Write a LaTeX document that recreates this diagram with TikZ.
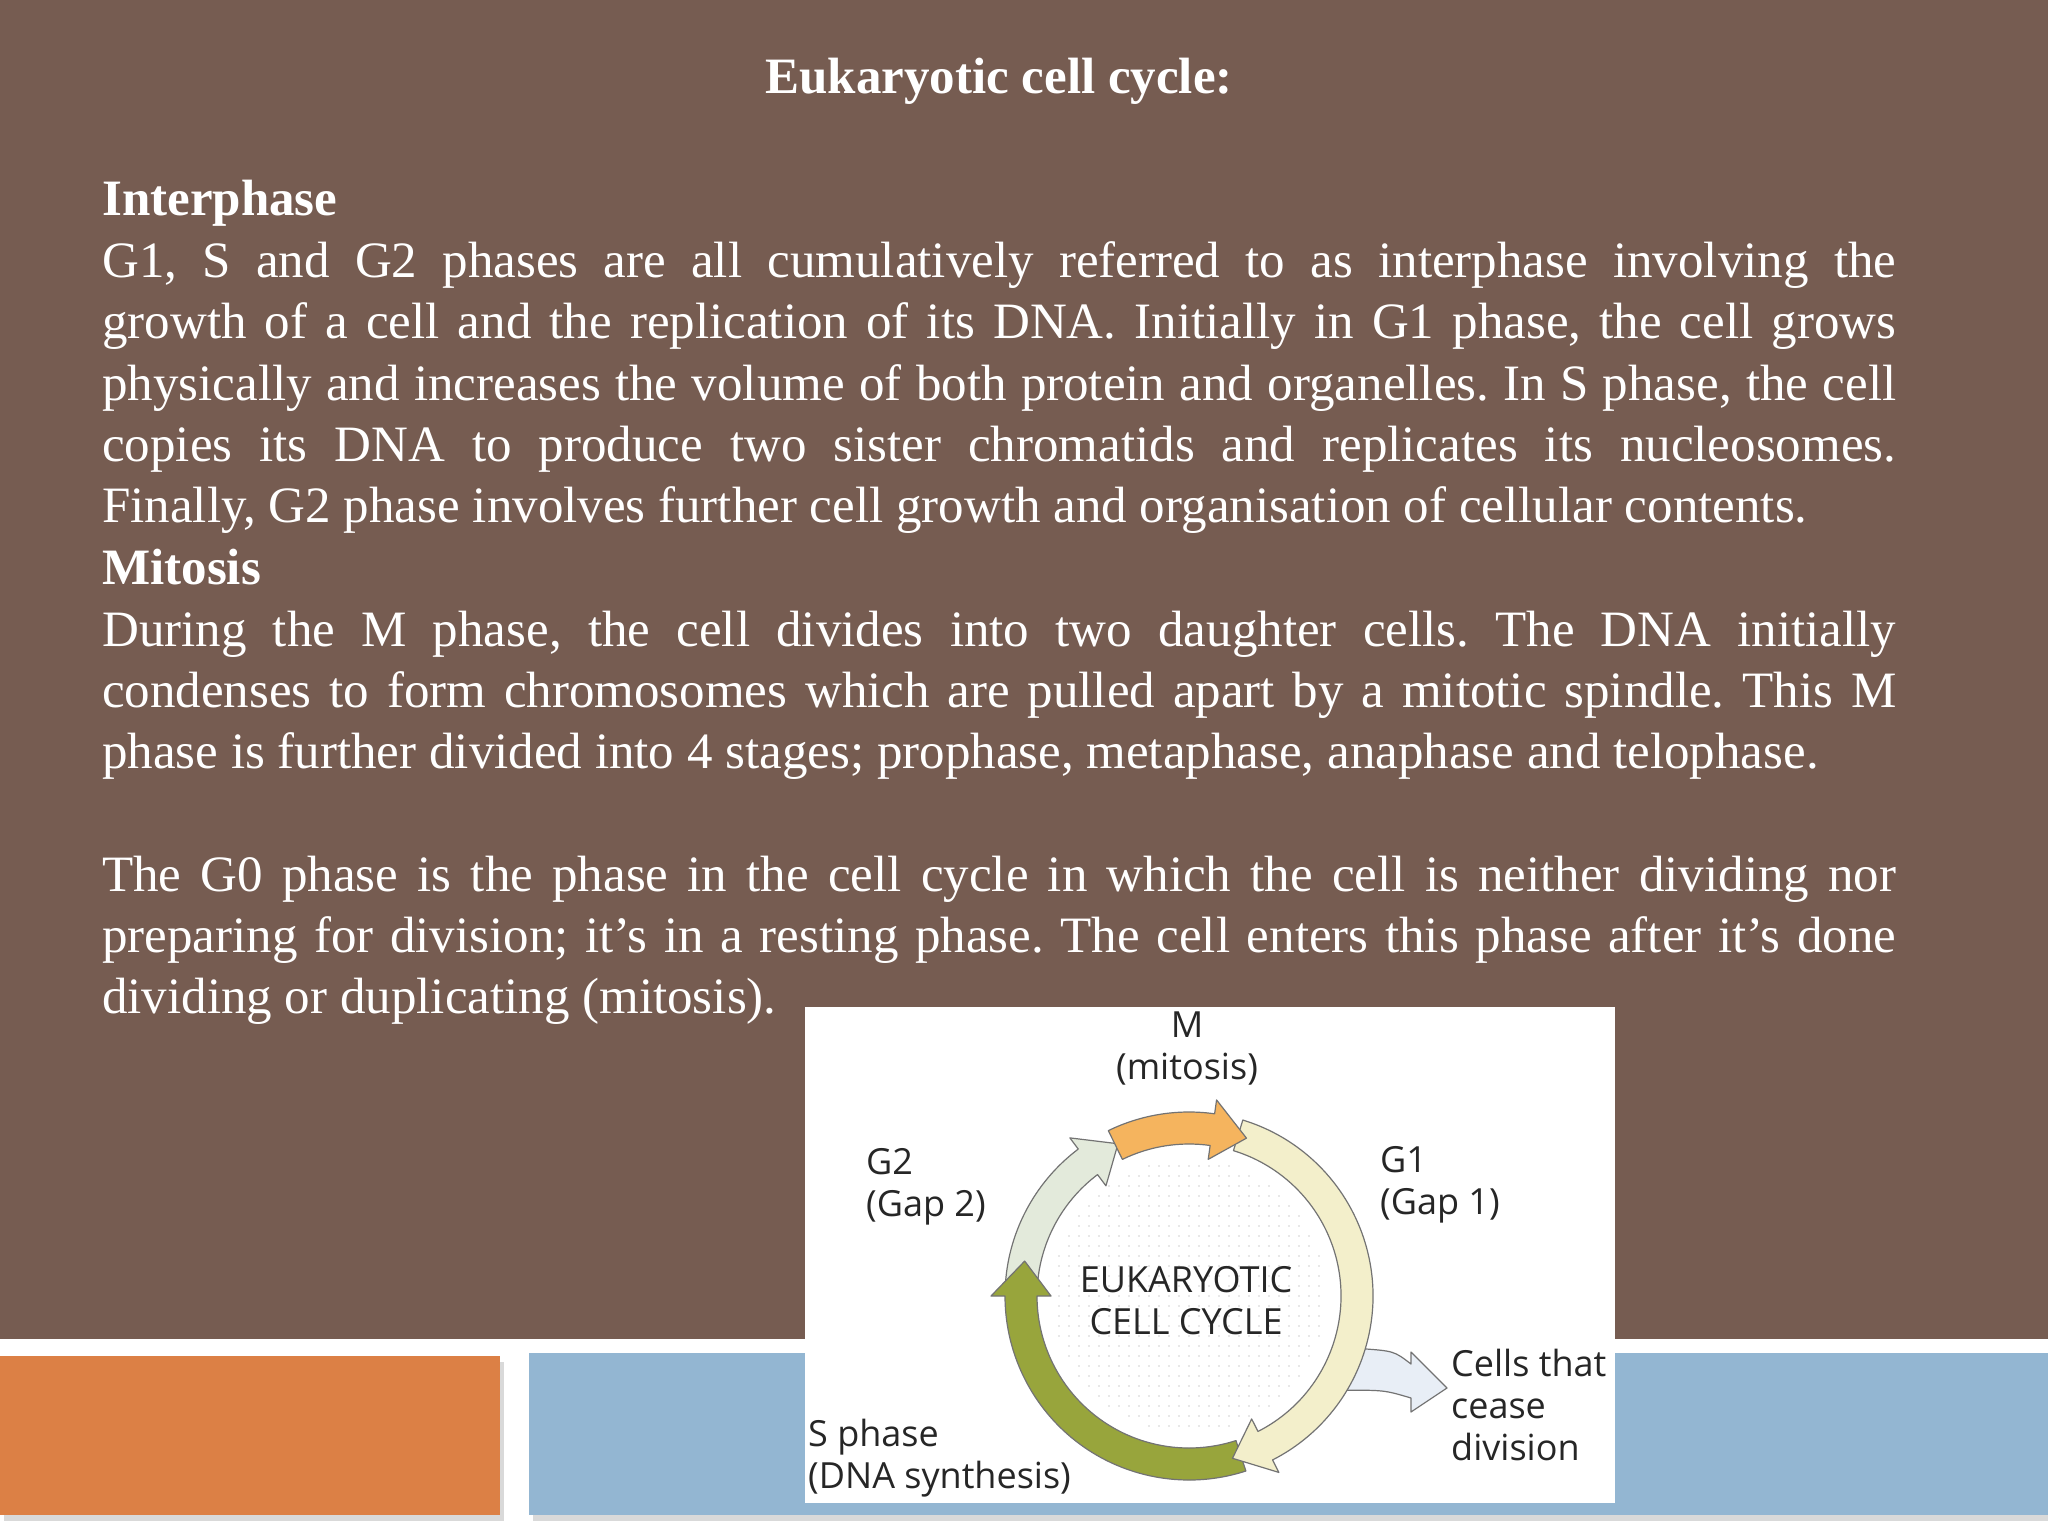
\documentclass[tikz,border=0pt]{standalone}
\usepackage{fontspec}
\setmainfont{Liberation Serif}
\newfontfamily\labfont{Open Sans}
\begin{document}
\frenchspacing
\begin{tikzpicture}[x=1pt,y=1pt,
  body/.style={anchor=base west,inner sep=0pt,font=\fontsize{51}{61}\selectfont,text=white},
  lab/.style={inner sep=0pt,font=\labfont\fontsize{36}{42}\selectfont,text=black!85},
  ring/.style={draw=black!55,line width=1.2pt,line join=round}]
\definecolor{bgbrown}{HTML}{765C51}
\definecolor{barorange}{HTML}{DC8045}
\definecolor{barblue}{HTML}{93B6D2}
\definecolor{gone}{HTML}{F3EFCB}
\definecolor{sgreen}{HTML}{98A53C}
\definecolor{gtwo}{HTML}{E3EADB}
\definecolor{morange}{HTML}{F5B45E}
\definecolor{cease}{HTML}{E8EEF6}
\useasboundingbox (0,0) rectangle (2048,-1536);
\fill[white] (0,0) rectangle (2048,-1536);
\fill[bgbrown] (0,0) rectangle (2048,-1339);
\fill[black!15] (4,-1362) rectangle (504,-1521);
\fill[black!15] (533,-1359) rectangle (2048,-1521);
\fill[barorange] (0,-1356) rectangle (500,-1515);
\fill[barblue] (529,-1353) rectangle (2048,-1515);
\node[anchor=base,inner sep=0pt,font=\bfseries\fontsize{51}{61}\selectfont,text=white] (title) at (999,-94) {Eukaryotic cell cycle:};
\def\J#1{\makebox[1794pt][s]{#1}}
\node[body] (h1) at (102,-215.5) {\bfseries Interphase};
\node[body] (l1) at (102,-277) {\J{G1, S and G2 phases are all cumulatively referred to as interphase involving the}};
\node[body] (l2) at (102,-338) {\J{growth of a cell and the replication of its DNA. Initially in G1 phase, the cell grows}};
\node[body] (l3) at (102,-400) {\J{physically and increases the volume of both protein and organelles. In S phase, the cell}};
\node[body] (l4) at (102,-461) {\J{copies its DNA to produce two sister chromatids and replicates its nucleosomes.}};
\node[body] (l5) at (102,-522) {Finally, G2 phase involves further cell growth and organisation of cellular contents.};
\node[body] (h2) at (102,-584) {\bfseries Mitosis};
\node[body] (l6) at (102,-646) {\J{During the M phase, the cell divides into two daughter cells. The DNA initially}};
\node[body] (l7) at (102,-707) {\J{condenses to form chromosomes which are pulled apart by a mitotic spindle. This M}};
\node[body] (l8) at (102,-768) {phase is further divided into 4 stages; prophase, metaphase, anaphase and telophase.};
\node[body] (l9) at (102,-891) {\J{The G0 phase is the phase in the cell cycle in which the cell is neither dividing nor}};
\node[body] (l10) at (102,-952) {\J{preparing for division; it's in a resting phase. The cell enters this phase after it's done}};
\node[body] (l11) at (102,-1013) {dividing or duplicating (mitosis).};
% image panel
\fill[white] (805,-1007) rectangle (1615,-1503);
\begin{scope}[shift={(1189,-1296)}]
  \foreach \i in {-14,-13,...,14}{\foreach \j in {-14,-13,...,14}{
    \pgfmathparse{(\i*\i+\j*\j<190)?1:0}
    \ifnum\pgfmathresult=1 \fill[black!18] (\i*10,\j*10) circle (0.8);\fi}}
  \def\R{168}\def\W{16}\def\H{14}
  \newcommand\cyc[3]{%
    \pgfmathsetmacro\eh{#2+12}
    \filldraw[ring,fill=#3] (#1:\R+\W) arc[start angle=#1,end angle=\eh,radius=\R+\W]
      -- (\eh:\R+\W+\H) -- (#2:\R) -- (\eh:\R-\W-\H) -- (\eh:\R-\W)
      arc[start angle=\eh,end angle=#1,radius=\R-\W] -- cycle;}
  \filldraw[ring,fill=cease] (-17:180) .. controls (205,-55) .. (222,-68)
     -- (222,-56) -- (258,-92) -- (222,-116) -- (222,-102)
     .. controls (195,-94) .. (-32:178) -- cycle;
  \cyc{-182}{-245}{gtwo}
  \cyc{-72}{-192}{sgreen}
  \cyc{73}{-75}{gone}
  \cyc{-244}{-290}{morange}
\end{scope}
\node[lab,align=center] (mlab) at (1187,-1048) {M\\(mitosis)};
\node[lab,align=left,anchor=north west] (g2lab) at (866,-1148) {G2\\(Gap 2)};
\node[lab,align=left,anchor=north west] (g1lab) at (1380,-1146) {G1\\(Gap 1)};
\node[lab,align=center] (ctr) at (1186,-1301) {EUKARYOTIC\\CELL CYCLE};
\node[lab,align=left,anchor=north west] (clab) at (1451,-1349) {Cells that\\cease\\division};
\node[lab,align=left,anchor=north west] (slab) at (808,-1419) {S phase\\(DNA synthesis)};
\end{tikzpicture}
\end{document}
